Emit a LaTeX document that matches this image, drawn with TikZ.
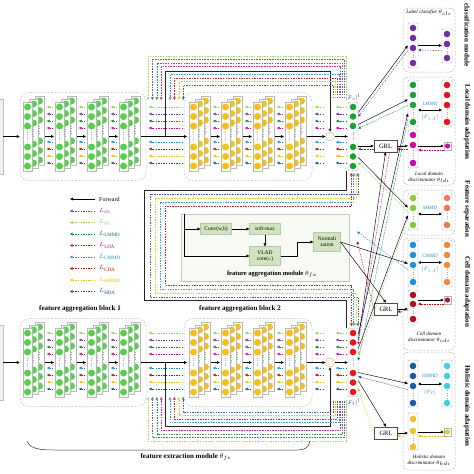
\documentclass[tikz,border=0pt]{standalone}
\usepackage{fontspec}
\setmainfont{Liberation Serif}
\usetikzlibrary{arrows.meta,calc}
\definecolor{cFS}{RGB}{146,208,80}
\definecolor{cCLS}{RGB}{112,48,160}
\definecolor{cLMMD}{RGB}{0,128,64}
\definecolor{cLDA}{RGB}{204,0,153}
\definecolor{cCMMD}{RGB}{30,140,210}
\definecolor{cCDA}{RGB}{192,0,0}
\definecolor{cHMMD}{RGB}{240,190,0}
\definecolor{cHDA}{RGB}{30,70,150}
\definecolor{gGreen}{RGB}{88,206,78}
\definecolor{gYellow}{RGB}{245,190,25}
\definecolor{gFs}{RGB}{30,160,50}
\definecolor{gFt}{RGB}{235,20,30}
\definecolor{mPurple}{RGB}{112,48,160}
\definecolor{mGreen}{RGB}{30,158,62}
\definecolor{mRed}{RGB}{230,20,30}
\definecolor{mMag}{RGB}{204,12,170}
\definecolor{mYG}{RGB}{140,198,63}
\definecolor{mSalmon}{RGB}{240,120,90}
\definecolor{mBlue}{RGB}{32,144,224}
\definecolor{mOrange}{RGB}{240,138,58}
\definecolor{mDRed}{RGB}{176,16,32}
\definecolor{mDBlue}{RGB}{31,90,168}
\definecolor{mCyan}{RGB}{64,208,224}
\definecolor{mYellow}{RGB}{242,193,46}
\definecolor{boxgreen}{RGB}{208,228,192}
\definecolor{panelgreen}{RGB}{246,250,242}
\tikzset{
 fwd/.style={draw=black, line width=0.45pt, -{Triangle[length=3pt,width=2.8pt]}},
 dfwd/.style={draw=black, line width=0.5pt, {Triangle[length=2.6pt,width=2.6pt]}-{Triangle[length=2.6pt,width=2.6pt]}},
 bk/.style={line width=0.4pt, dash pattern=on 1.5pt off 1.1pt, -{Triangle[length=2.6pt,width=2.6pt]}},
 bkk/.style={line width=0.4pt, dash pattern=on 1.5pt off 1.1pt, {Triangle[length=2.6pt,width=2.6pt]}-{Triangle[length=2.6pt,width=2.6pt]}},
 blockbox/.style={draw=gray!50, line width=0.5pt, dash pattern=on 2pt off 1.5pt, rounded corners=9pt, inner sep=0pt},
 modbox/.style={draw=gray!60, line width=0.5pt, dash pattern=on 2pt off 1.5pt, rounded corners=5pt, inner sep=0pt},
 colbox/.style={draw=gray!60, fill=white, line width=0.45pt, rounded corners=1pt, inner sep=0pt, minimum width=10pt},
 smallbox/.style={draw=gray!60, fill=white, line width=0.45pt, inner sep=0pt, minimum width=7pt, minimum height=8pt},
 grl/.style={draw=gray!60!black, fill=white, line width=0.5pt, minimum width=23pt, minimum height=12pt, inner sep=0pt, font=\fontsize{6.5}{7}\selectfont},
 pbox/.style={fill=boxgreen, draw=boxgreen!70!gray, line width=0.3pt, inner sep=0pt, minimum width=31pt, minimum height=11pt, font=\fontsize{5.5}{6}\selectfont, align=center},
 skipline/.style={draw=gray!30!black, line width=0.7pt},
 frameline/.style={draw=gray!30!black, line width=0.8pt},
 mtxt/.style={font=\fontsize{5}{5.5}\selectfont, inner sep=0pt, align=center},
 ttl/.style={font=\bfseries\fontsize{7}{8}\selectfont, rotate=-90, inner sep=0pt},
 lbl/.style={font=\bfseries\fontsize{7}{8}\selectfont, inner sep=0pt},
 legtxt/.style={font=\fontsize{6}{7}\selectfont, inner sep=0pt, anchor=west},
}
% layer group: x, ytop, colour
\newcommand\LGroup[3]{%
  \foreach \dx/\dy in {12/-6,6/-3,0/0}{%
    \draw[gray!55, fill=white, line width=0.4pt] (#1+\dx,#2+\dy) rectangle ++(9,69);
    \foreach \cy in {5,14.5,24,45,54.5,64}{\fill[#3] (#1+\dx+4.5,#2+\dy+\cy) circle (3.5pt);}
    \draw[gray!70, dotted, line width=0.5pt] (#1+\dx+4.5,#2+\dy+29.5) -- ++(0,10);
  }}
% row of eight backward arrows: tip x, length, ytop
\newcommand\BackRow[3]{%
  \foreach \c/\o in {cFS/5,cCLS/12,cLMMD/19,cLDA/26,cCMMD/40,cCDA/47,cHMMD/54,cHDA/61}{%
    \draw[bk, draw=\c] (#1+#2,#3+\o) -- (#1,#3+\o);}}
\newcommand\Circs[3]{\foreach \yy in {#3}{\fill[#2] (#1,\yy) circle (3.3pt);}}
\newcommand\Dots[3]{\draw[gray!70, dotted, line width=0.5pt] (#1,#2) -- (#1,#3);}
% stream: ytop, ymid, suffix, F colour
\newcommand\StreamBody[4]{%
  \node[blockbox, minimum width=126pt, minimum height=88pt] (bA#3) at (83,#2) {};
  \node[blockbox, minimum width=128pt, minimum height=88pt] (bB#3) at (248,#2) {};
  \foreach \gx in {23,55,87,119}{\LGroup{\gx}{#1}{gGreen}}
  \foreach \gx in {189,221,253,285}{\LGroup{\gx}{#1}{gYellow}}
  \foreach \gx in {23,55,87,189,221,253}{%
    \draw[fwd] (\gx+22,#2) -- (\gx+31,#2);
    \BackRow{\gx+24}{6}{#1}}
  \draw[fwd] (141,#2) -- (187,#2);
  \BackRow{149}{34}{#1}
  \node[draw=gray!60, fill=yellow!8, circle, minimum size=9pt, inner sep=0pt] (add#3) at (330,#2) {};
  \draw[fwd] (307,#2) -- (add#3);
  \node[colbox, minimum height=68pt] (F#3) at (353,#2) {};
  \draw[fwd] (add#3) -- (F#3);
  \BackRow{315}{9}{#1}
  \BackRow{336}{11}{#1}
  \foreach \cy in {5,14.5,24,45,54.5,64}{\fill[#4] (353,#1+\cy) circle (3.3pt);}
  \Dots{353}{#1+29.5}{#1+39.5}
}
\begin{document}
\begin{tikzpicture}[x=1pt,y=-1pt]
\useasboundingbox (0,0) rectangle (474,474);

% ---------- source and target streams ----------
\node[draw=gray!50, fill=gray!12, minimum width=6pt, minimum height=75pt, inner sep=0pt] (imgS) at (0,136.5) {};
\node[draw=gray!50, fill=gray!12, minimum width=6pt, minimum height=75pt, inner sep=0pt] (imgT) at (0,362.5) {};
\StreamBody{102}{136.5}{S}{gFs}
\StreamBody{328}{362.5}{T}{gFt}
\draw[fwd] (imgS) -- (bAS);
\draw[fwd] (imgT) -- (bAT);
\node[font=\fontsize{5}{5}\selectfont, text=cHDA, inner sep=0pt] (FsL) at (353,97) {$[F_s]^l$};
\node[font=\fontsize{5}{5}\selectfont, text=cHDA, inner sep=0pt] (FtL) at (353,402) {$[F_t]^l$};

% skip connections
\draw[skipline, -{Triangle[length=3pt,width=2.8pt]}] (165.6,136.5) -- (165.6,71) -- (330,71) -- (addS.north);
\draw[skipline, -{Triangle[length=3pt,width=2.8pt]}] (165.6,362.5) -- (165.6,426) -- (330,426) -- (addT.south);

% routed backward lines (top and bottom)
\foreach \i/\c in {0/cFS,1/cCLS,2/cLMMD,3/cLDA,4/cCMMD,5/cCDA,6/cHMMD,7/cHDA}{%
  \pgfmathsetmacro\xl{148+4.4*\i+4.4*(\i>3)}
  \pgfmathsetmacro\yt{56+3.5*\i+4.5*(\i>3)}
  \pgfmathsetmacro\yb{441-3.5*\i-4.5*(\i>3)}
  \pgfmathsetmacro\xr{346-1.8*\i}
  \draw[bk, draw=\c!85] (\xr,98) -- (\xr,\yt) -- (\xl,\yt) -- (\xl,100);
  \draw[bk, draw=\c!85] (\xr,401) -- (\xr,\yb) -- (\xl,\yb) -- (\xl,397);
}

% ---------- feature aggregation module ----------
\draw[frameline] ([xshift=-7pt]FS.south) |- (144,190) -- (144,300) -| ([xshift=-7pt]FT.north);
\foreach \i/\c in {0/cHDA,1/cHMMD,2/cCMMD,3/cCDA}{%
  \pgfmathsetmacro\xl{150+5*\i}
  \pgfmathsetmacro\yt{194+4*\i}
  \pgfmathsetmacro\yb{297-4*\i}
  \pgfmathsetmacro\xr{358-2.2*\i}
  \draw[bkk, draw=\c!85] (\xr,173) -- (\xr,\yt) -- (\xl,\yt) -- (\xl,\yb) -- (\xr,\yb) -- (\xr,326);
}
\node[draw=gray!45, fill=panelgreen, minimum width=168pt, minimum height=67pt, inner sep=0pt] (panel) at (265,247.5) {};
\node[pbox] (conv) at (216,229) {Conv(w,b)};
\node[pbox] (soft) at (265,229) {soft-max};
\node[pbox, minimum height=19pt] (vlad) at (265,256) {VLAD\\core($c$)};
\node[pbox, minimum width=27pt, minimum height=19pt] (norm) at (327,242) {Normali\\zation};
\draw[line width=0.45pt] (184,214) -- (184,256);
\draw[fwd] (184,229) -- (conv.west);
\draw[fwd] (184,256) -- (vlad.west);
\draw[fwd] (conv) -- (soft);
\draw[fwd] (soft) -- (vlad);
\draw[fwd] (vlad.east) -- ++(17,0) |- (norm.west);
\node[lbl, font=\bfseries\fontsize{6.5}{7}\selectfont] (faml) at (272,274) {feature aggregation module $\theta_{fa}$};

% ---------- legend ----------
\draw[fwd] (95,199) -- (70,199);
\node[legtxt] (legF) at (99,199) {Forward};
\foreach \c/\t/\y in {cCLS/cls/211,cFS/FS/222.5,cLMMD/LMMD/234,cLDA/LDA/245.5,cCMMD/CMMD/257,cCDA/CDA/268.5,cHMMD/HMMD/280,cHDA/HDA/291.5}{%
  \draw[bk, draw=\c] (95,\y) -- (70,\y);
  \node[legtxt, text=\c] (leg\t) at (99,\y) {$L_{\mathrm{\t}}$};
}

% ---------- labels ----------
\node[lbl] (lb1) at (80,309) {feature aggregation block 1};
\node[lbl] (lb2) at (240,309) {feature aggregation block 2};
\node[lbl] (lfe) at (186,457) {feature extraction module $\theta_{fe}$};
\draw[gray!40!black, line width=0.5pt] (27,441) .. controls (30,449) and (40,450) .. (55,450) -- (298,450) .. controls (305,450) and (309,447) .. (310,441);

% ---------- right modules ----------
\node[modbox, minimum width=52pt, minimum height=64pt] (mCls) at (429,40) {};
\node[mtxt, font=\itshape\fontsize{5}{5.5}\selectfont] (tCls) at (429,13) {Label classifier $\theta_{cls}$};
\node[colbox, minimum height=45pt] (cls1) at (413,45.5) {};
\node[colbox, minimum height=34pt] (cls2) at (447,46) {};
\Circs{413}{mPurple}{28,38,48,63}\Dots{413}{52}{59}
\Circs{447}{mPurple}{34,44,58}\Dots{447}{48}{54}
\draw[fwd] (cls1.east) -- (cls1.east -| cls2.west);
\draw[bk, draw=cCLS] ($(cls2.west)+(0,4.5)$) -- ($(cls1.east)+(0,4.5)$);

\node[modbox, minimum width=52pt, minimum height=108pt] (mLoc) at (429,131) {};
\node[colbox, minimum height=47pt] (lmL) at (413,103.5) {};
\node[colbox, minimum height=47pt] (lmR) at (447,103.5) {};
\Circs{413}{mGreen}{85,95,105,122}\Dots{413}{109}{118}
\Circs{447}{mRed}{85,95,105,122}\Dots{447}{109}{118}
\node[mtxt, text=cCMMD, font=\itshape\fontsize{5}{5.5}\selectfont] (tLmmd) at (430,104) {LMMD};
\draw[dfwd] ($(lmL.east)+(0,6.5)$) -- ($(lmR.west)+(0,6.5)$);
\node[mtxt, text=cCMMD, font=\fontsize{4.5}{5}\selectfont] (tLf) at (430,118) {$[F_{s,t}]$};
\node[colbox, minimum height=38pt] (ldaC) at (413,149) {};
\Circs{413}{mMag}{135,145,163}\Dots{413}{150}{158}
\node[smallbox] (ldaB) at (447.5,146) {};
\fill[mMag] (ldaB) circle (2.6pt);
\draw[fwd] (ldaC.east |- ldaB) -- (ldaB.west);
\draw[bk, draw=cLDA] ($(ldaB.west)+(0,4)$) -- ($(ldaC.east)+(0,1)$);
\node[mtxt, font=\itshape\fontsize{5}{5.5}\selectfont] (tLd) at (429,177.5) {Local domain\\discriminator $\theta_{ldi}$};

\node[modbox, minimum width=52pt, minimum height=45pt] (mFs) at (429,212.5) {};
\node[colbox, minimum height=37pt] (fsL) at (413,211.5) {};
\node[colbox, minimum height=37pt] (fsR) at (447,211.5) {};
\Circs{413}{mYG}{198,208,225}\Dots{413}{213}{220}
\Circs{447}{mSalmon}{198,208,225}\Dots{447}{213}{220}
\node[mtxt, text=cCMMD, font=\itshape\fontsize{5}{5.5}\selectfont] (tSmmd) at (430,208) {SMMD};
\draw[dfwd] ($(fsL.east)+(0,2.5)$) -- ($(fsR.west)+(0,2.5)$);

\node[modbox, minimum width=52pt, minimum height=112pt] (mCell) at (429,294) {};
\node[colbox, minimum height=47pt] (cmL) at (413,263.5) {};
\node[colbox, minimum height=47pt] (cmR) at (447,263.5) {};
\Circs{413}{mBlue}{245,255,265,282}\Dots{413}{269}{278}
\Circs{447}{mOrange}{245,255,265,282}\Dots{447}{269}{278}
\node[mtxt, text=cCMMD, font=\itshape\fontsize{5}{5.5}\selectfont] (tCmmd) at (430,256) {CMMD};
\draw[dfwd] ($(cmL.east)+(0,-1)$) -- ($(cmR.west)+(0,-1)$);
\node[mtxt, text=cCMMD, font=\fontsize{4.5}{5}\selectfont] (tCf) at (430,270) {$[F_{s,t}]$};
\node[colbox, minimum height=33pt] (cdC) at (413,306.5) {};
\Circs{413}{mDRed}{295,304,319}\Dots{413}{308}{315}
\node[smallbox] (cdB) at (447.5,300) {};
\fill[mDRed] (cdB) circle (2.6pt);
\draw[fwd] (cdC.east |- cdB) -- (cdB.west);
\draw[bk, draw=cCDA] ($(cdB.west)+(0,4)$) -- ($(cdC.east)+(0,-2.5)$);
\node[mtxt, font=\itshape\fontsize{5}{5.5}\selectfont] (tCd) at (429,337.5) {Cell domain\\discriminator $\theta_{cdi}$};

\node[modbox, minimum width=52pt, minimum height=118pt] (mHol) at (429,411) {};
\node[colbox, minimum height=47pt] (hmL) at (413,383.5) {};
\node[colbox, minimum height=47pt] (hmR) at (447,383.5) {};
\Circs{413}{mDBlue}{366,376,386,403}\Dots{413}{390}{399}
\Circs{447}{mCyan}{366,376,386,403}\Dots{447}{390}{399}
\node[mtxt, text=cCMMD, font=\itshape\fontsize{5}{5.5}\selectfont] (tHmmd) at (430,376) {HMMD};
\draw[dfwd] ($(hmL.east)+(0,0.5)$) -- ($(hmR.west)+(0,0.5)$);
\node[mtxt, text=cCMMD, font=\fontsize{4.5}{5}\selectfont] (tHf) at (430,392) {$[F_t]$};
\node[colbox, minimum height=37pt] (hdC) at (413,431.5) {};
\Circs{413}{mYellow}{419,431,447}\Dots{413}{435}{443}
\node[smallbox] (hdB) at (447.5,432) {};
\fill[mYellow] (hdB) circle (2.6pt);
\draw[fwd] (hdC.east |- hdB) -- (hdB.west);
\draw[bk, draw=cHMMD] ($(hdB.west)+(0,4)$) -- ($(hdC.east)+(0,4.5)$);
\node[mtxt, font=\itshape\fontsize{5}{5.5}\selectfont] (tHd) at (429,460.5) {Holistic domain\\discriminator $\theta_{hdi}$};

% titles
\node[ttl] (t1) at (467,35) {classification module};
\node[ttl] (t2) at (467,122) {Local domain adaptation};
\node[ttl] (t3) at (467,209) {Feature separation};
\node[ttl] (t4) at (467,292) {Cell domain adaptation};
\node[ttl] (t5) at (467,406) {Holistic domain adaptation};

% GRLs
\node[grl] (grl1) at (385.5,146) {GRL};
\node[grl] (grl2) at (386,309) {GRL};
\node[grl] (grl3) at (386,433) {GRL};
\draw[fwd] (grl1.east) -- (grl1.east -| ldaC.west);
\draw[fwd] (grl2.east) -- (grl2.east -| cdC.west);
\draw[fwd] (grl3.east) -- (grl3.east -| hdC.west);
\draw[bk, draw=cLDA] ($(ldaC.west)+(0,0)$) -- ($(grl1.east)+(0,3)$);
\draw[bk, draw=cCDA] ($(cdC.west)+(0,3.5)$) -- ($(grl2.east)+(0,3)$);
\draw[bk, draw=cHMMD] ($(hdC.west)+(0,3.5)$) -- ($(grl3.east)+(0,3)$);

% forward connections
\draw[fwd] ($(FS.east)+(0,-24)$) -- (cls1.west);
\draw[fwd] ($(FS.east)+(0,-12)$) -- ($(lmL.west)+(0,-4)$);
\draw[fwd] (grl1.west -| FS.east) -- (grl1.west);
\draw[fwd] ($(FS.east)+(0,21)$) -- ($(fsL.west)+(0,-4)$);
\draw[fwd] ($(FT.east)+(0,-28)$) -- ($(lmL.west)+(0,10)$);
\draw[fwd] ($(FT.east)+(0,-22)$) -- (grl1.south);
\draw[fwd] ($(FT.east)+(0,-14)$) -- ($(fsL.west)+(0,4)$);
\draw[fwd] ($(FT.east)+(0,10)$) -- (hmL.west);
\draw[fwd] ($(FT.east)+(0,18)$) -- (grl3.north);
\draw[fwd] (norm.east) -- (cmL.west);
\draw[fwd] (norm.east) -- (grl2.north);

% backward connections
\draw[bk, draw=cCLS] ($(cls1.west)+(0,5)$) -- ($(FS.east)+(0,-20)$);
\draw[bk, draw=cLMMD] ($(lmL.west)+(0,2)$) -- ($(FS.east)+(0,-8)$);
\draw[bk, draw=cLMMD] ($(lmL.west)+(0,16)$) -- ($(FT.east)+(0,-2)$);
\draw[bk, draw=cLDA] ($(grl1.west)+(0,3)$) -- ($(FS.east)+(0,12.5)$);
\draw[bk, draw=cLDA] ($(grl1.south)+(4,0)$) -- ($(FT.east)+(0,-18)$);
\draw[bk, draw=cFS] (fsL.west) -- ($(FS.east)+(0,26)$);
\draw[bk, draw=cFS] ($(fsL.west)+(0,8)$) -- ($(FT.east)+(0,-8)$);
\draw[bk, draw=cCMMD] ($(cmL.west)+(0,6)$) -- ($(panel.east)+(8,-16)$);
\draw[bk, draw=cCDA] ($(grl2.west)+(0,2)$) -- ($(panel.east)+(8,-6)$);
\draw[bk, draw=cHDA] ($(hmL.west)+(0,6)$) -- ($(FT.east)+(0,14)$);
\draw[bk, draw=cHMMD] ($(grl3.west)+(0,3)$) -- ($(FT.east)+(0,26)$);
\end{tikzpicture}
\end{document}
